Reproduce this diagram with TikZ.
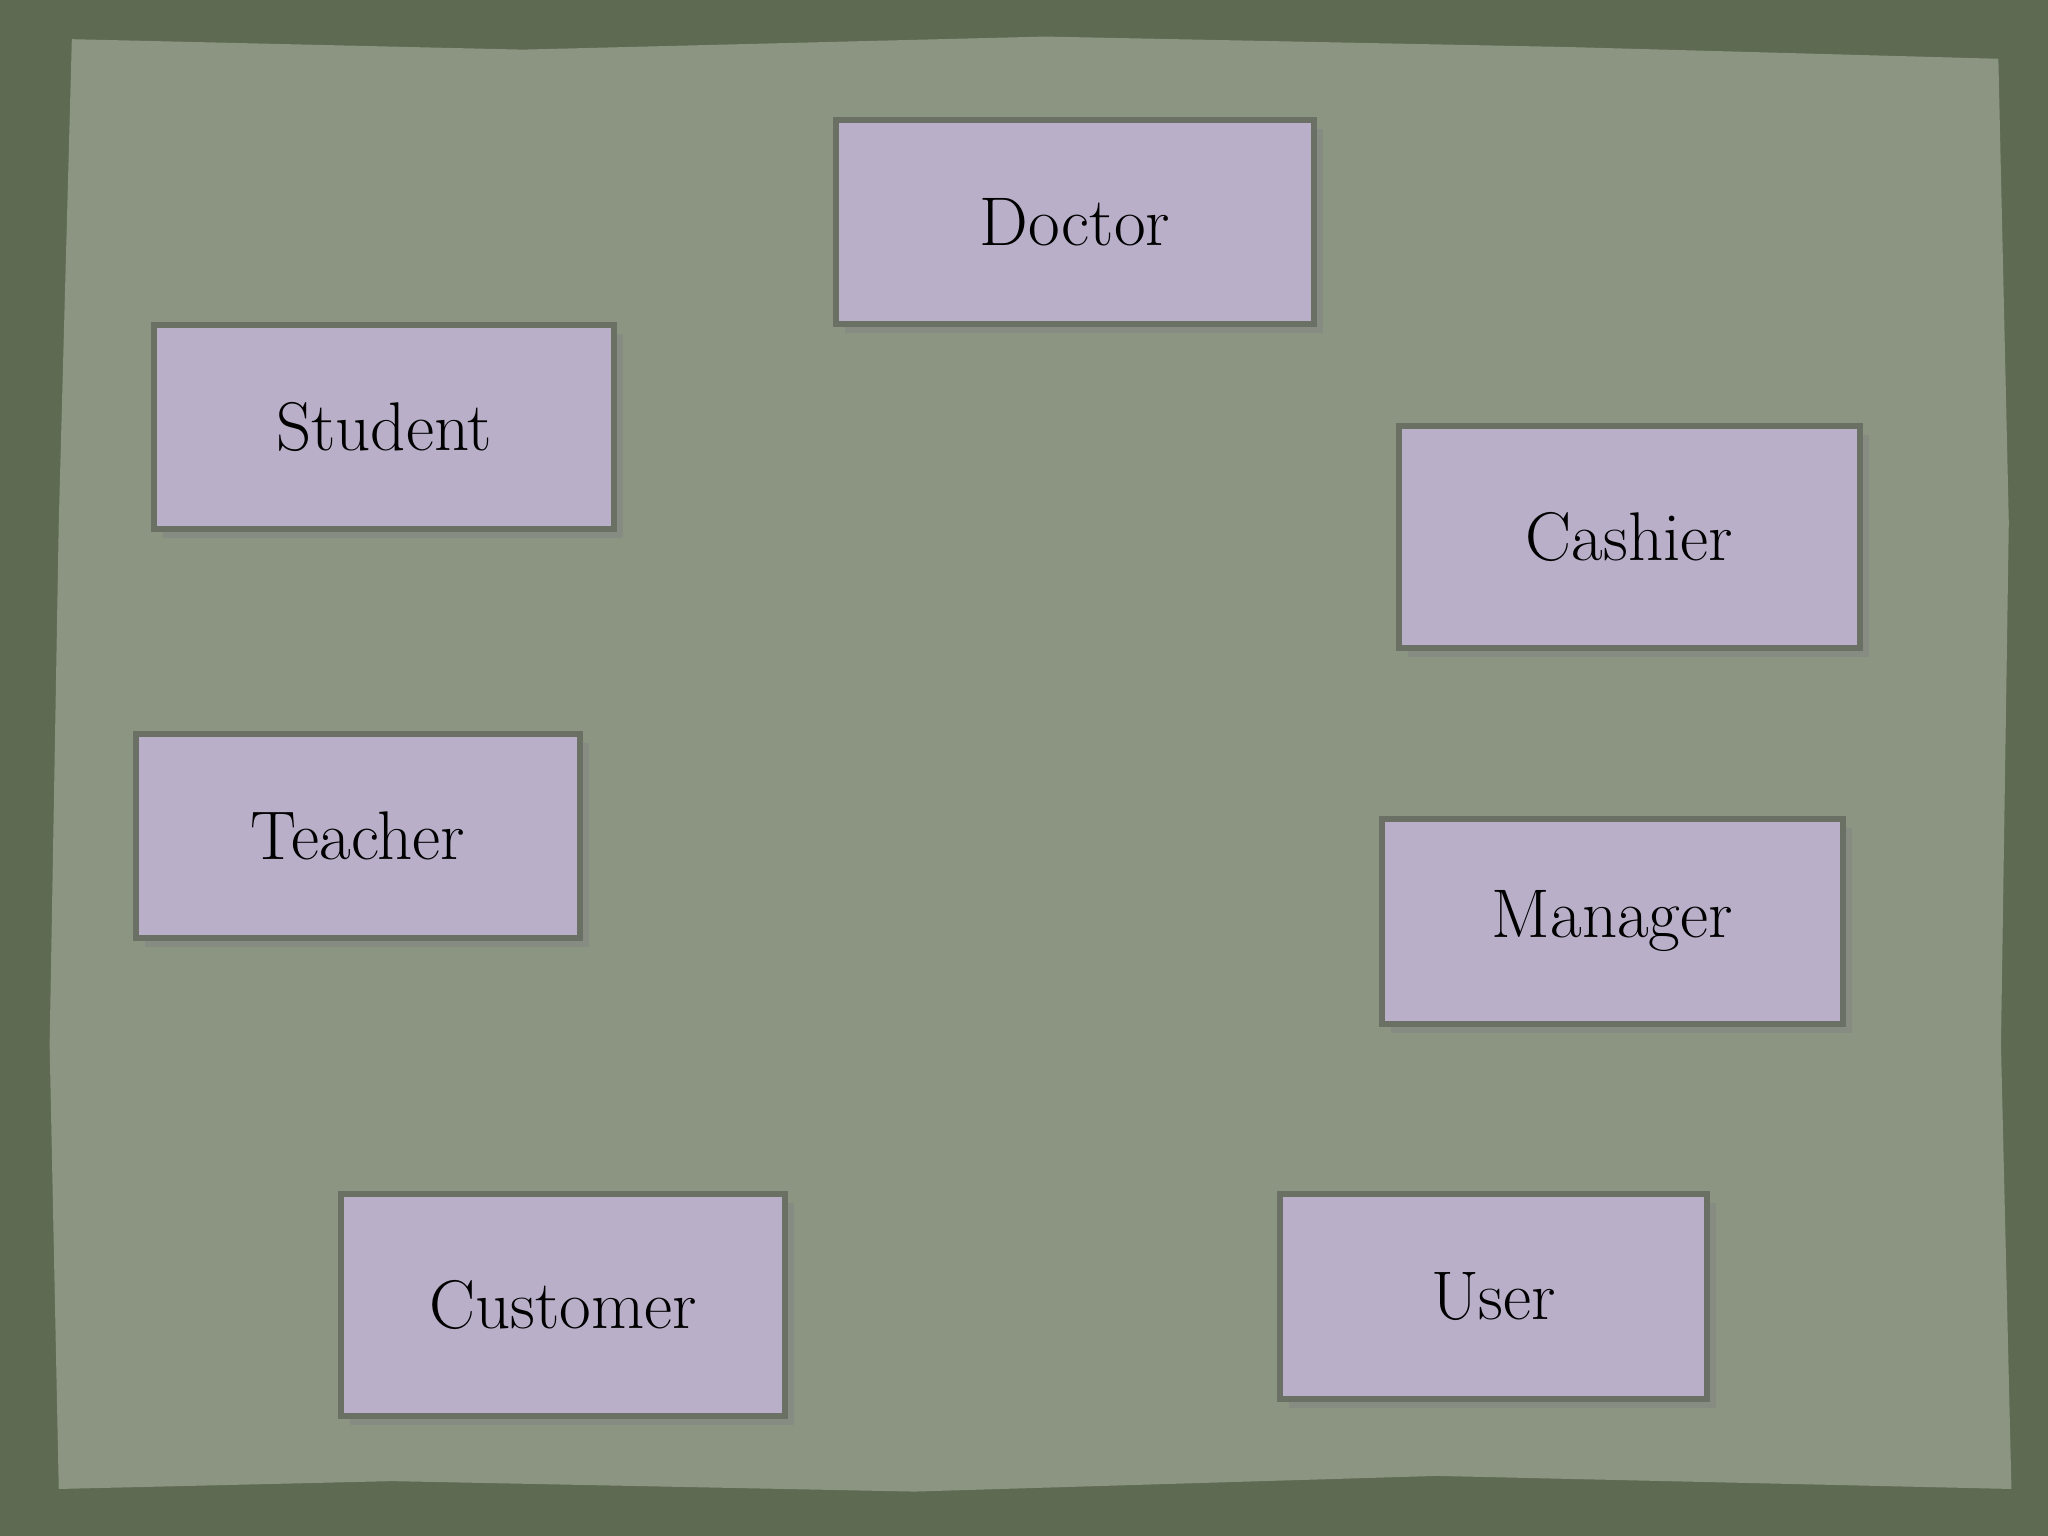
\documentclass[tikz,border=0pt]{standalone}
\usetikzlibrary{shadows}
\definecolor{outerbg}{HTML}{5E6A52}
\definecolor{paper}{HTML}{8B9582}
\definecolor{boxfill}{HTML}{B9AFC9}
\definecolor{boxline}{HTML}{6A7064}
\tikzset{
  rolebox/.style={draw=boxline, line width=1.2pt, fill=boxfill, drop shadow={shadow xshift=2pt, shadow yshift=-2pt, opacity=0.4}},
  rolelabel/.style={font=\fontsize{15}{18}\selectfont, text=black}
}
\begin{document}
\begin{tikzpicture}[x=0.01cm,y=-0.01cm]
\fill[outerbg] (0,0) rectangle (1568,1176);
\fill[paper] (55,30) -- (400,38) -- (800,28) -- (1200,36) -- (1530,45) -- (1538,400) -- (1532,800) -- (1540,1140) -- (1100,1130) -- (700,1142) -- (300,1134) -- (45,1140) -- (38,800) -- (45,400) -- cycle;
\foreach \n/\xa/\ya/\xb/\yb/\t in {doctor/640/92/1006/248/Doctor, student/118/249/470/405/Student, cashier/1071/326/1424/496/Cashier, teacher/104/562/444/718/Teacher, manager/1058/627/1411/784/Manager, customer/261/914/601/1084/Customer, user/980/914/1307/1071/User}{
  \draw[rolebox] (\xa,\ya) rectangle (\xb,\yb);
  \node[rolelabel] (\n) at ({(\xa+\xb)/2},{(\ya+\yb)/2}) {\t};
}
\end{tikzpicture}
\end{document}
